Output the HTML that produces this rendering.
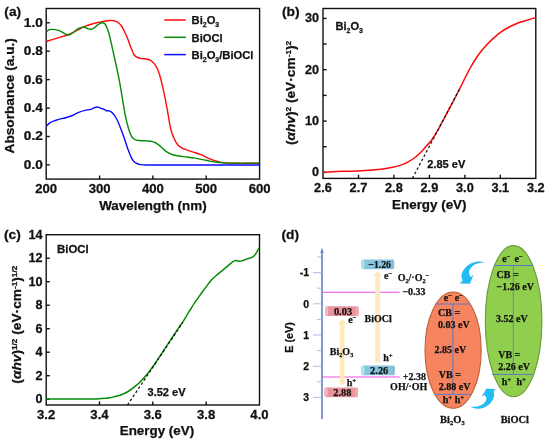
<!DOCTYPE html>
<html><head><meta charset="utf-8"><title>Figure</title>
<style>html,body{margin:0;padding:0;background:#fff}svg{display:block}
text{fill:#111;stroke:#111;stroke-width:0.25px;font-weight:bold}
.s{font-family:"Liberation Sans",Arial,sans-serif}
.t{font-family:"Liberation Serif","Times New Roman",serif}</style>
</head><body>
<svg width="550" height="442" viewBox="0 0 550 442">
<rect width="550" height="442" fill="#fff"/>
<rect x="46.2" y="8.5" width="213.40000000000003" height="170.6" fill="none" stroke="#111" stroke-width="1.4"/>
<line x1="99.6" y1="179.1" x2="99.6" y2="175.5" stroke="#111" stroke-width="1.4"/>
<line x1="152.9" y1="179.1" x2="152.9" y2="175.5" stroke="#111" stroke-width="1.4"/>
<line x1="206.2" y1="179.1" x2="206.2" y2="175.5" stroke="#111" stroke-width="1.4"/>
<line x1="46.2" y1="164.9" x2="49.8" y2="164.9" stroke="#111" stroke-width="1.4"/>
<line x1="46.2" y1="136.5" x2="49.8" y2="136.5" stroke="#111" stroke-width="1.4"/>
<line x1="46.2" y1="108.1" x2="49.8" y2="108.1" stroke="#111" stroke-width="1.4"/>
<line x1="46.2" y1="79.6" x2="49.8" y2="79.6" stroke="#111" stroke-width="1.4"/>
<line x1="46.2" y1="51.2" x2="49.8" y2="51.2" stroke="#111" stroke-width="1.4"/>
<line x1="46.2" y1="22.8" x2="49.8" y2="22.8" stroke="#111" stroke-width="1.4"/>
<text class="s" transform="translate(42.8,168.8) scale(1.1,1)" font-size="12.4" text-anchor="end" >0.0</text>
<text class="s" transform="translate(42.8,140.4) scale(1.1,1)" font-size="12.4" text-anchor="end" >0.2</text>
<text class="s" transform="translate(42.8,112.0) scale(1.1,1)" font-size="12.4" text-anchor="end" >0.4</text>
<text class="s" transform="translate(42.8,83.5) scale(1.1,1)" font-size="12.4" text-anchor="end" >0.6</text>
<text class="s" transform="translate(42.8,55.1) scale(1.1,1)" font-size="12.4" text-anchor="end" >0.8</text>
<text class="s" transform="translate(42.8,26.7) scale(1.1,1)" font-size="12.4" text-anchor="end" >1.0</text>
<text class="s" transform="translate(46.2,193.0) scale(1.06,1)" font-size="12.4" text-anchor="middle" >200</text>
<text class="s" transform="translate(99.6,193.0) scale(1.06,1)" font-size="12.4" text-anchor="middle" >300</text>
<text class="s" transform="translate(152.9,193.0) scale(1.06,1)" font-size="12.4" text-anchor="middle" >400</text>
<text class="s" transform="translate(206.2,193.0) scale(1.06,1)" font-size="12.4" text-anchor="middle" >500</text>
<text class="s" transform="translate(259.6,193.0) scale(1.06,1)" font-size="12.4" text-anchor="middle" >600</text>
<text class="s" transform="translate(152.9,209.5) scale(1,1)" font-size="13.4" text-anchor="middle" >Wavelength (nm)</text>
<text class="s" transform="translate(14.2,95.8) rotate(-90) scale(1.02,1)" font-size="13.4" text-anchor="middle" >Absorbance (a.u.)</text>
<text class="s" transform="translate(4.3,15.6) scale(1.06,1)" font-size="13" text-anchor="start" >(a)</text>
<clipPath id="ca"><rect x="46.2" y="8.5" width="213.40000000000003" height="170.6"/></clipPath>
<g clip-path="url(#ca)" fill="none" stroke-width="1.4" stroke-linejoin="round">
<path d="M46.1,41.6C47.1,41.3 49.8,40.3 52.2,39.6C54.6,38.9 57.7,38.1 60.4,37.2C63.1,36.4 65.8,35.6 68.5,34.5C71.2,33.4 74.0,31.9 76.7,30.5C79.4,29.1 82.1,27.5 84.8,26.4C87.5,25.3 90.3,24.4 93.0,23.7C95.7,22.9 98.7,22.4 101.1,21.9C103.5,21.4 105.5,20.9 107.2,20.7C108.9,20.5 109.9,20.4 111.3,20.5C112.7,20.6 114.2,20.7 115.4,21.1C116.6,21.5 117.4,21.9 118.4,22.7C119.4,23.5 120.5,24.5 121.5,26.0C122.5,27.5 123.5,29.4 124.5,31.5C125.5,33.6 126.6,36.1 127.6,38.6C128.6,41.1 129.8,44.6 130.6,46.8C131.4,49.0 132.0,50.3 132.7,51.8C133.4,53.2 133.8,54.5 134.7,55.5C135.5,56.5 136.6,57.0 137.8,57.5C139.0,58.0 140.5,58.4 141.8,58.6C143.2,58.9 144.5,58.7 145.9,59.0C147.3,59.3 148.9,59.7 150.0,60.2C151.1,60.7 151.5,61.0 152.5,62.0C153.5,63.0 154.9,64.2 156.0,66.1C157.1,68.0 158.1,70.2 159.1,73.2C160.1,76.2 161.1,80.2 162.1,84.4C163.1,88.7 164.2,93.6 165.2,98.7C166.2,103.8 167.3,110.0 168.2,115.0C169.1,120.0 169.7,124.8 170.6,128.5C171.5,132.2 172.2,134.2 173.4,136.9C174.6,139.6 175.9,142.8 177.6,144.8C179.2,146.8 181.0,147.6 183.3,148.7C185.7,149.8 188.9,150.6 191.7,151.6C194.5,152.6 197.4,153.3 200.2,154.4C203.0,155.5 205.8,157.1 208.6,158.3C211.4,159.5 214.3,160.6 217.1,161.4C219.9,162.2 222.3,162.6 225.6,162.9C228.9,163.2 232.6,163.2 236.8,163.3C241.0,163.4 247.1,163.3 250.9,163.3C254.7,163.3 258.0,163.3 259.4,163.3" stroke="#ff0a0a"/>
<path d="M46.1,32.5C46.4,32.1 47.2,30.8 48.1,30.3C49.0,29.8 50.0,29.5 51.2,29.4C52.4,29.3 53.9,29.4 55.3,29.6C56.6,29.8 57.9,30.1 59.3,30.7C60.6,31.2 62.0,32.2 63.4,32.9C64.8,33.6 66.5,34.6 67.5,34.9C68.5,35.2 68.7,35.2 69.5,34.9C70.3,34.6 71.6,33.6 72.6,32.9C73.6,32.2 74.6,31.2 75.6,30.5C76.6,29.8 77.7,28.9 78.7,28.4C79.7,27.9 81.0,27.6 81.8,27.4C82.6,27.2 83.1,26.9 83.8,27.0C84.5,27.1 85.1,27.5 85.8,27.8C86.5,28.1 87.1,28.6 87.9,28.8C88.8,29.0 89.9,29.3 90.9,29.2C91.9,29.1 93.0,28.6 94.0,28.0C95.0,27.4 96.0,26.2 97.0,25.4C98.0,24.6 99.1,23.8 100.1,23.3C101.0,22.9 101.9,22.6 102.7,22.7C103.5,22.8 104.1,22.9 104.8,23.7C105.5,24.5 106.1,25.6 106.8,27.4C107.5,29.2 108.3,31.1 109.2,34.5C110.1,37.9 111.3,43.2 112.3,47.8C113.3,52.4 114.2,56.6 115.4,62.0C116.6,67.4 118.1,74.3 119.3,80.4C120.5,86.5 121.4,92.7 122.4,98.7C123.4,104.7 124.5,111.5 125.5,116.5C126.5,121.5 127.6,125.4 128.6,128.7C129.6,132.0 130.6,134.6 131.6,136.4C132.6,138.2 133.5,138.8 134.7,139.5C135.9,140.2 136.8,140.3 138.8,140.5C140.8,140.7 144.6,140.8 146.6,140.9C148.6,141.0 149.6,141.0 151.0,141.3C152.4,141.6 153.6,141.8 155.0,142.5C156.4,143.2 158.0,144.4 159.3,145.4C160.6,146.4 161.8,147.6 163.0,148.6C164.2,149.6 164.7,150.5 166.4,151.6C168.1,152.7 170.6,154.2 173.4,155.0C176.2,155.8 179.8,156.1 183.3,156.6C186.8,157.1 190.8,157.5 194.6,158.1C198.3,158.7 202.1,159.6 205.8,160.3C209.6,161.0 213.3,161.8 217.1,162.3C220.9,162.8 224.2,163.0 228.4,163.1C232.6,163.2 237.3,163.1 242.5,163.1C247.7,163.1 256.6,163.1 259.4,163.1" stroke="#078a07"/>
<path d="M46.1,126.3C46.8,125.7 48.7,123.6 50.2,122.6C51.7,121.6 53.6,121.1 55.3,120.5C57.0,119.9 58.5,119.4 60.4,118.9C62.3,118.4 64.5,118.1 66.5,117.5C68.5,116.9 70.6,116.3 72.6,115.5C74.6,114.7 76.7,113.2 78.7,112.4C80.7,111.6 82.8,110.9 84.8,110.4C86.8,109.9 89.2,109.8 90.9,109.3C92.6,108.8 93.8,107.9 95.0,107.5C96.2,107.1 97.0,107.0 98.0,107.1C99.0,107.2 100.1,107.9 101.1,108.3C102.1,108.7 103.3,108.9 104.2,109.3C105.1,109.7 105.4,110.5 106.2,110.8C107.0,111.0 108.2,110.5 109.2,110.8C110.2,111.1 111.1,111.5 112.3,112.8C113.5,114.1 115.1,116.0 116.4,118.5C117.8,121.0 119.1,124.3 120.4,127.7C121.8,131.1 123.1,135.0 124.5,138.9C125.9,142.8 127.4,147.9 128.6,151.1C129.8,154.3 130.6,156.3 131.6,158.2C132.6,160.1 133.5,161.3 134.7,162.3C135.9,163.3 137.3,163.9 138.8,164.3C140.3,164.7 140.4,164.8 143.9,164.9C147.4,165.0 140.8,165.0 160.0,165.0C179.2,165.0 242.8,165.0 259.4,165.0" stroke="#0a0aff"/>
</g>
<line x1="164.2" y1="20.0" x2="185.8" y2="20.0" stroke="#ff0a0a" stroke-width="1.5"/>
<text class="s" transform="translate(191.6,24.2) scale(1,1)" font-size="11.2" text-anchor="start" >Bi<tspan font-size="62%" baseline-shift="-2.6">2</tspan>O<tspan font-size="62%" baseline-shift="-2.6">3</tspan></text>
<line x1="164.2" y1="37.3" x2="185.8" y2="37.3" stroke="#078a07" stroke-width="1.5"/>
<text class="s" transform="translate(191.6,41.5) scale(1,1)" font-size="11.2" text-anchor="start" >BiOCl</text>
<line x1="164.2" y1="54.6" x2="185.8" y2="54.6" stroke="#0a0aff" stroke-width="1.5"/>
<text class="s" transform="translate(191.6,58.8) scale(1,1)" font-size="11.2" text-anchor="start" >Bi<tspan font-size="62%" baseline-shift="-2.6">2</tspan>O<tspan font-size="62%" baseline-shift="-2.6">3</tspan>/BiOCl</text>
<rect x="323" y="8.5" width="212.79999999999995" height="169.9" fill="none" stroke="#111" stroke-width="1.4"/>
<line x1="358.5" y1="178.4" x2="358.5" y2="174.8" stroke="#111" stroke-width="1.4"/>
<line x1="393.9" y1="178.4" x2="393.9" y2="174.8" stroke="#111" stroke-width="1.4"/>
<line x1="429.4" y1="178.4" x2="429.4" y2="174.8" stroke="#111" stroke-width="1.4"/>
<line x1="464.9" y1="178.4" x2="464.9" y2="174.8" stroke="#111" stroke-width="1.4"/>
<line x1="500.3" y1="178.4" x2="500.3" y2="174.8" stroke="#111" stroke-width="1.4"/>
<line x1="323" y1="172.4" x2="326.6" y2="172.4" stroke="#111" stroke-width="1.4"/>
<line x1="323" y1="146.7" x2="326.6" y2="146.7" stroke="#111" stroke-width="1.4"/>
<line x1="323" y1="121.1" x2="326.6" y2="121.1" stroke="#111" stroke-width="1.4"/>
<line x1="323" y1="95.4" x2="326.6" y2="95.4" stroke="#111" stroke-width="1.4"/>
<line x1="323" y1="69.7" x2="326.6" y2="69.7" stroke="#111" stroke-width="1.4"/>
<line x1="323" y1="44.0" x2="326.6" y2="44.0" stroke="#111" stroke-width="1.4"/>
<line x1="323" y1="18.4" x2="326.6" y2="18.4" stroke="#111" stroke-width="1.4"/>
<text class="s" transform="translate(319.1,176.3) scale(1.02,1)" font-size="12.4" text-anchor="end" >0</text>
<text class="s" transform="translate(319.1,125.0) scale(1.02,1)" font-size="12.4" text-anchor="end" >10</text>
<text class="s" transform="translate(319.1,73.6) scale(1.02,1)" font-size="12.4" text-anchor="end" >20</text>
<text class="s" transform="translate(319.1,22.3) scale(1.02,1)" font-size="12.4" text-anchor="end" >30</text>
<text class="s" transform="translate(323.0,192.3) scale(1.03,1)" font-size="12.4" text-anchor="middle" >2.6</text>
<text class="s" transform="translate(358.5,192.3) scale(1.03,1)" font-size="12.4" text-anchor="middle" >2.7</text>
<text class="s" transform="translate(393.9,192.3) scale(1.03,1)" font-size="12.4" text-anchor="middle" >2.8</text>
<text class="s" transform="translate(429.4,192.3) scale(1.03,1)" font-size="12.4" text-anchor="middle" >2.9</text>
<text class="s" transform="translate(464.9,192.3) scale(1.03,1)" font-size="12.4" text-anchor="middle" >3.0</text>
<text class="s" transform="translate(500.3,192.3) scale(1.03,1)" font-size="12.4" text-anchor="middle" >3.1</text>
<text class="s" transform="translate(535.8,192.3) scale(1.03,1)" font-size="12.4" text-anchor="middle" >3.2</text>
<text class="s" transform="translate(429.3,209.2) scale(1,1)" font-size="13.4" text-anchor="middle" >Energy (eV)</text>
<text class="s" transform="translate(295.3,93.0) rotate(-90) scale(1.04,1)" font-size="13.2" text-anchor="middle" >(<tspan font-style="italic">αhv</tspan>)<tspan font-size="60%" baseline-shift="4.4">2</tspan> (eV·cm<tspan font-size="60%" baseline-shift="4.4">-1</tspan>)<tspan font-size="60%" baseline-shift="4.4">2</tspan></text>
<text class="s" transform="translate(282.0,15.6) scale(1.06,1)" font-size="13" text-anchor="start" >(b)</text>
<text class="s" transform="translate(335.5,29.8) scale(1.06,1)" font-size="10.5" text-anchor="start" >Bi<tspan font-size="62%" baseline-shift="-2.6">2</tspan>O<tspan font-size="62%" baseline-shift="-2.6">3</tspan></text>
<path d="M322.9,172.3C324.4,172.2 328.6,171.9 332.2,171.7C335.8,171.5 340.3,171.4 344.4,171.3C348.5,171.2 352.6,171.1 356.7,170.9C360.8,170.7 364.8,170.6 368.9,170.3C373.0,170.0 377.4,169.6 381.1,169.2C384.8,168.8 388.2,168.2 391.3,167.6C394.4,167.0 397.2,166.3 400.0,165.4C402.8,164.5 405.2,163.6 407.8,162.2C410.4,160.8 413.3,158.8 415.6,157.0C417.9,155.2 420.0,153.0 421.8,151.2C423.6,149.4 424.5,148.1 426.2,146.2C427.9,144.3 430.0,142.4 431.9,139.8C433.8,137.2 435.8,133.8 437.7,130.4C439.6,127.0 441.6,123.2 443.5,119.6C445.4,116.0 447.6,111.9 449.2,108.9C450.8,105.9 451.2,105.3 453.1,101.7C455.0,98.1 458.3,91.5 460.4,87.4C462.5,83.3 463.8,80.3 465.5,77.0C467.2,73.7 468.8,70.5 470.5,67.5C472.2,64.5 473.9,61.6 475.6,59.0C477.3,56.4 478.8,54.2 480.7,51.8C482.6,49.4 484.8,46.9 486.8,44.7C488.9,42.5 490.6,40.7 493.0,38.6C495.4,36.5 498.4,33.8 501.1,31.9C503.8,30.0 506.5,28.4 509.2,27.0C511.9,25.6 514.7,24.4 517.4,23.3C520.1,22.2 522.5,21.6 525.5,20.7C528.5,19.8 533.8,18.1 535.5,17.6" fill="none" stroke="#ff0a0a" stroke-width="1.5"/>
<line x1="412.4" y1="178.4" x2="459.6" y2="89" stroke="#111" stroke-width="1.25" stroke-dasharray="2.6,2.3"/>
<text class="s" transform="translate(427.3,167.9) scale(1,1)" font-size="10.3" text-anchor="start" textLength="38" lengthAdjust="spacingAndGlyphs">2.85 eV</text>
<rect x="46.2" y="234.7" width="213.3" height="170.3" fill="none" stroke="#111" stroke-width="1.4"/>
<line x1="99.5" y1="405" x2="99.5" y2="401.4" stroke="#111" stroke-width="1.4"/>
<line x1="152.8" y1="405" x2="152.8" y2="401.4" stroke="#111" stroke-width="1.4"/>
<line x1="206.2" y1="405" x2="206.2" y2="401.4" stroke="#111" stroke-width="1.4"/>
<line x1="46.2" y1="399.2" x2="49.8" y2="399.2" stroke="#111" stroke-width="1.4"/>
<line x1="46.2" y1="375.7" x2="49.8" y2="375.7" stroke="#111" stroke-width="1.4"/>
<line x1="46.2" y1="352.2" x2="49.8" y2="352.2" stroke="#111" stroke-width="1.4"/>
<line x1="46.2" y1="328.7" x2="49.8" y2="328.7" stroke="#111" stroke-width="1.4"/>
<line x1="46.2" y1="305.2" x2="49.8" y2="305.2" stroke="#111" stroke-width="1.4"/>
<line x1="46.2" y1="281.7" x2="49.8" y2="281.7" stroke="#111" stroke-width="1.4"/>
<line x1="46.2" y1="258.2" x2="49.8" y2="258.2" stroke="#111" stroke-width="1.4"/>
<text class="s" transform="translate(42.6,403.1) scale(1.02,1)" font-size="12.4" text-anchor="end" >0</text>
<text class="s" transform="translate(42.6,379.6) scale(1.02,1)" font-size="12.4" text-anchor="end" >2</text>
<text class="s" transform="translate(42.6,356.1) scale(1.02,1)" font-size="12.4" text-anchor="end" >4</text>
<text class="s" transform="translate(42.6,332.6) scale(1.02,1)" font-size="12.4" text-anchor="end" >6</text>
<text class="s" transform="translate(42.6,309.1) scale(1.02,1)" font-size="12.4" text-anchor="end" >8</text>
<text class="s" transform="translate(42.6,285.6) scale(1.02,1)" font-size="12.4" text-anchor="end" >10</text>
<text class="s" transform="translate(42.6,262.1) scale(1.02,1)" font-size="12.4" text-anchor="end" >12</text>
<text class="s" transform="translate(42.6,238.6) scale(1.02,1)" font-size="12.4" text-anchor="end" >14</text>
<text class="s" transform="translate(46.2,419.2) scale(1.06,1)" font-size="12.4" text-anchor="middle" >3.2</text>
<text class="s" transform="translate(99.5,419.2) scale(1.06,1)" font-size="12.4" text-anchor="middle" >3.4</text>
<text class="s" transform="translate(152.8,419.2) scale(1.06,1)" font-size="12.4" text-anchor="middle" >3.6</text>
<text class="s" transform="translate(206.2,419.2) scale(1.06,1)" font-size="12.4" text-anchor="middle" >3.8</text>
<text class="s" transform="translate(259.5,419.2) scale(1.06,1)" font-size="12.4" text-anchor="middle" >4.0</text>
<text class="s" transform="translate(156.9,434.8) scale(1,1)" font-size="13.4" text-anchor="middle" >Energy (eV)</text>
<text class="s" transform="translate(20.6,324.7) rotate(-90) scale(1.04,1)" font-size="13.2" text-anchor="middle" >(<tspan font-style="italic">αhv</tspan>)<tspan font-size="60%" baseline-shift="4.4">1/2</tspan> (eV·cm<tspan font-size="60%" baseline-shift="4.4">-1</tspan>)<tspan font-size="60%" baseline-shift="4.4">1/2</tspan></text>
<text class="s" transform="translate(3.9,239.4) scale(1.06,1)" font-size="13" text-anchor="start" >(c)</text>
<text class="s" transform="translate(57.0,252.6) scale(1.09,1)" font-size="10.5" text-anchor="start" >BiOCl</text>
<path d="M46.1,399.0C53.6,399.0 81.7,399.1 90.9,399.0C100.1,398.9 97.7,398.9 101.1,398.6C104.5,398.3 108.1,397.9 111.3,397.4C114.5,396.8 117.2,396.3 120.0,395.3C122.8,394.3 125.4,393.1 128.1,391.5C130.8,389.9 133.9,387.4 136.3,385.4C138.7,383.4 140.4,381.6 142.4,379.5C144.4,377.4 146.5,375.0 148.5,372.5C150.5,370.0 152.6,367.2 154.6,364.3C156.6,361.4 158.7,358.1 160.7,355.0C162.7,351.9 164.8,348.8 166.8,345.7C168.8,342.6 170.9,339.6 172.9,336.5C174.9,333.4 177.1,330.1 179.0,327.3C180.9,324.5 182.5,322.3 184.1,319.8C185.7,317.3 186.7,315.4 188.6,312.4C190.5,309.4 193.2,305.0 195.4,301.7C197.7,298.4 200.2,295.0 202.1,292.3C204.0,289.6 205.5,287.6 207.0,285.6C208.5,283.6 209.7,282.0 211.2,280.3C212.7,278.6 214.1,277.4 216.0,275.7C217.9,274.0 220.3,272.1 222.5,270.3C224.7,268.5 227.6,266.1 229.3,264.7C231.1,263.2 232.0,262.3 233.0,261.6C234.0,260.9 234.6,260.5 235.5,260.4C236.4,260.3 237.4,261.0 238.5,261.1C239.6,261.2 240.5,261.3 242.0,260.9C243.5,260.5 245.7,259.3 247.4,258.7C249.2,258.1 251.2,257.9 252.5,257.1C253.8,256.4 254.4,255.8 255.5,254.2C256.6,252.6 258.6,248.6 259.2,247.5" fill="none" stroke="#078a07" stroke-width="1.5"/>
<line x1="127.5" y1="405" x2="182.8" y2="322.4" stroke="#111" stroke-width="1.25" stroke-dasharray="2.6,2.3"/>
<text class="s" transform="translate(147.5,396.2) scale(1,1)" font-size="10.3" text-anchor="start" textLength="38" lengthAdjust="spacingAndGlyphs">3.52 eV</text>
<text class="s" transform="translate(281.5,239.4) scale(1.06,1)" font-size="13" text-anchor="start" >(d)</text>
<defs>
<linearGradient id="gb" x1="0" x2="1" y1="0" y2="0"><stop offset="0" stop-color="#6fb3d0"/><stop offset="0.12" stop-color="#a9d8ea"/><stop offset="0.5" stop-color="#8ec9df"/><stop offset="0.9" stop-color="#a9d8ea"/><stop offset="1" stop-color="#7fbfd8"/></linearGradient>
<linearGradient id="gr" x1="0" x2="1" y1="0" y2="0"><stop offset="0" stop-color="#d77880"/><stop offset="0.12" stop-color="#efb0b4"/><stop offset="0.5" stop-color="#e2888e"/><stop offset="0.9" stop-color="#efb0b4"/><stop offset="1" stop-color="#dc8088"/></linearGradient>
</defs>
<line x1="322" y1="419" x2="322" y2="251" stroke="#5b82c8" stroke-width="1.6"/>
<path d="M322,247.6 L323.7,253 L320.3,253 Z" fill="#5b82c8"/>
<line x1="313" y1="272.6" x2="321.5" y2="272.6" stroke="#a9c2e8" stroke-width="1"/>
<text class="s" transform="translate(309.0,276.4) scale(1,1)" font-size="10.5" text-anchor="end" >-1</text>
<line x1="313" y1="303.8" x2="321.5" y2="303.8" stroke="#a9c2e8" stroke-width="1"/>
<text class="s" transform="translate(309.0,307.6) scale(1,1)" font-size="10.5" text-anchor="end" >0</text>
<line x1="313" y1="335.0" x2="321.5" y2="335.0" stroke="#a9c2e8" stroke-width="1"/>
<text class="s" transform="translate(309.0,338.8) scale(1,1)" font-size="10.5" text-anchor="end" >1</text>
<line x1="313" y1="366.2" x2="321.5" y2="366.2" stroke="#a9c2e8" stroke-width="1"/>
<text class="s" transform="translate(309.0,370.0) scale(1,1)" font-size="10.5" text-anchor="end" >2</text>
<line x1="313" y1="397.4" x2="321.5" y2="397.4" stroke="#a9c2e8" stroke-width="1"/>
<text class="s" transform="translate(309.0,401.2) scale(1,1)" font-size="10.5" text-anchor="end" >3</text>
<line x1="317" y1="257.0" x2="321.5" y2="257.0" stroke="#a9c2e8" stroke-width="1"/>
<line x1="317" y1="288.2" x2="321.5" y2="288.2" stroke="#a9c2e8" stroke-width="1"/>
<line x1="317" y1="319.4" x2="321.5" y2="319.4" stroke="#a9c2e8" stroke-width="1"/>
<line x1="317" y1="350.6" x2="321.5" y2="350.6" stroke="#a9c2e8" stroke-width="1"/>
<line x1="317" y1="381.8" x2="321.5" y2="381.8" stroke="#a9c2e8" stroke-width="1"/>
<text class="s" transform="translate(293.4,337.5) rotate(-90) scale(1.03,1)" font-size="10.5" text-anchor="middle" >E (eV)</text>
<line x1="322.5" y1="292.2" x2="399.7" y2="292.2" stroke="#f04fe6" stroke-width="1.1"/>
<line x1="322.5" y1="377" x2="399.7" y2="377" stroke="#f04fe6" stroke-width="1.1"/>
<path d="M339.9,384.8 L339.9,324.1 L337.5,324.1 L342.2,319.3 L346.9,324.1 L344.5,324.1 L344.5,384.8 Z" fill="#fde9bc"/>
<path d="M375.3,362.6 L375.3,275.8 L372.90000000000003,275.8 L377.6,271 L382.3,275.8 L379.90000000000003,275.8 L379.90000000000003,362.6 Z" fill="#fde9bc"/>
<rect x="361.2" y="259.4" width="33.0" height="9.800000000000011" rx="2.6" fill="#86c5dd"/>
<rect x="391.0" y="259.4" width="3.2" height="9.800000000000011" rx="1.6" fill="#93bdd0"/>
<ellipse cx="362.9" cy="264.29999999999995" rx="1.7" ry="4.900000000000006" fill="#aee1f1"/>
<text class="t" transform="translate(379.7,267.7) scale(0.93,1)" font-size="10.4" text-anchor="middle" >−1.26</text>
<rect x="325" y="306.2" width="33.60000000000002" height="9.800000000000011" rx="2.6" fill="#e9939b"/>
<rect x="355.40000000000003" y="306.2" width="3.2" height="9.800000000000011" rx="1.6" fill="#f0a6ae"/>
<ellipse cx="326.7" cy="311.1" rx="1.7" ry="4.900000000000006" fill="#f6b8bc"/>
<text class="t" transform="translate(343.0,314.5) scale(1,1)" font-size="10.4" text-anchor="middle" >0.03</text>
<rect x="361.3" y="365.5" width="33.39999999999998" height="9.800000000000011" rx="2.6" fill="#86c5dd"/>
<rect x="391.5" y="365.5" width="3.2" height="9.800000000000011" rx="1.6" fill="#93bdd0"/>
<ellipse cx="363.0" cy="370.4" rx="1.7" ry="4.900000000000006" fill="#aee1f1"/>
<text class="t" transform="translate(379.2,373.8) scale(1,1)" font-size="10.4" text-anchor="middle" >2.26</text>
<rect x="324.3" y="387.4" width="33.69999999999999" height="9.800000000000011" rx="2.6" fill="#e9939b"/>
<rect x="354.8" y="387.4" width="3.2" height="9.800000000000011" rx="1.6" fill="#f0a6ae"/>
<ellipse cx="326.0" cy="392.29999999999995" rx="1.7" ry="4.900000000000006" fill="#f6b8bc"/>
<text class="t" transform="translate(342.3,395.7) scale(1,1)" font-size="10.4" text-anchor="middle" >2.88</text>
<text class="t" transform="translate(384.0,279.3) scale(1,1)" font-size="10" text-anchor="start" >e<tspan font-size="68%" baseline-shift="3.1">−</tspan></text>
<text class="t" transform="translate(348.3,322.8) scale(1,1)" font-size="10" text-anchor="start" >e<tspan font-size="68%" baseline-shift="3.1">−</tspan></text>
<text class="t" transform="translate(364.5,321.5) scale(1,1)" font-size="10" text-anchor="start" >BiOCl</text>
<text class="t" transform="translate(329.8,354.6) scale(1,1)" font-size="10" text-anchor="start" >Bi<tspan font-size="62%" baseline-shift="-2">2</tspan>O<tspan font-size="62%" baseline-shift="-2">3</tspan></text>
<text class="t" transform="translate(383.3,360.5) scale(1,1)" font-size="10" text-anchor="start" >h<tspan font-size="68%" baseline-shift="3.1">+</tspan></text>
<text class="t" transform="translate(346.7,385.5) scale(1,1)" font-size="10" text-anchor="start" >h<tspan font-size="68%" baseline-shift="3.1">+</tspan></text>
<text class="t" transform="translate(397.7,280.7) scale(1,1)" font-size="10" text-anchor="start" >O<tspan font-size="62%" baseline-shift="-2">2</tspan>/·O<tspan font-size="62%" baseline-shift="-2">2</tspan><tspan font-size="68%" baseline-shift="3.1">−</tspan></text>
<text class="t" transform="translate(402.4,294.6) scale(1,1)" font-size="10" text-anchor="start" >−0.33</text>
<text class="t" transform="translate(402.8,379.5) scale(1,1)" font-size="10" text-anchor="start" >+2.38</text>
<text class="t" transform="translate(390.1,390.3) scale(1,1)" font-size="10" text-anchor="start" >OH/·OH</text>
<ellipse cx="453.1" cy="350.15" rx="28.1" ry="58.1" fill="#f5845f" stroke="#bd5f3c" stroke-width="1.1"/>
<ellipse cx="513.6" cy="321.2" rx="28.3" ry="75.6" fill="#90ce4e" stroke="#6a9a33" stroke-width="1.1"/>
<g stroke="#5a78c8" stroke-width="1" fill="none">
<line x1="435.4" y1="304" x2="469.8" y2="304"/><line x1="436" y1="394.4" x2="470.8" y2="394.4"/><line x1="452.9" y1="304" x2="452.9" y2="394.4"/>
<line x1="494" y1="265.5" x2="533" y2="265.5"/><line x1="492" y1="374.4" x2="532.5" y2="374.4"/><line x1="513.3" y1="265.5" x2="513.3" y2="374.4" stroke-width="0.8"/>
</g>
<text class="t" transform="translate(453.4,301.4) scale(1,1)" font-size="10" text-anchor="middle" >e<tspan font-size="68%" baseline-shift="3.1">−</tspan> e<tspan font-size="68%" baseline-shift="3.1">−</tspan></text>
<text class="t" transform="translate(438.0,316.1) scale(1,1)" font-size="10" text-anchor="start" >CB =</text>
<text class="t" transform="translate(438.0,328.4) scale(1,1)" font-size="10" text-anchor="start" >0.03 eV</text>
<text class="t" transform="translate(434.6,352.5) scale(1,1)" font-size="10" text-anchor="start" >2.85 eV</text>
<text class="t" transform="translate(438.8,377.7) scale(1,1)" font-size="10" text-anchor="start" >VB =</text>
<text class="t" transform="translate(438.8,390.0) scale(1,1)" font-size="10" text-anchor="start" >2.88 eV</text>
<text class="t" transform="translate(453.4,403.2) scale(1,1)" font-size="10" text-anchor="middle" >h<tspan font-size="68%" baseline-shift="3.1">+</tspan> h<tspan font-size="68%" baseline-shift="3.1">+</tspan></text>
<text class="t" transform="translate(502.2,261.9) scale(1,1)" font-size="10" text-anchor="start" >e<tspan font-size="68%" baseline-shift="3.1">−</tspan></text>
<text class="t" transform="translate(514.6,261.9) scale(1,1)" font-size="10" text-anchor="start" >e<tspan font-size="68%" baseline-shift="3.1">−</tspan></text>
<text class="t" transform="translate(496.5,278.2) scale(1,1)" font-size="10" text-anchor="start" >CB =</text>
<text class="t" transform="translate(496.5,290.2) scale(1,1)" font-size="10" text-anchor="start" >−1.26 eV</text>
<text class="t" transform="translate(496.0,322.0) scale(1,1)" font-size="10" text-anchor="start" >3.52 eV</text>
<text class="t" transform="translate(498.2,358.0) scale(1,1)" font-size="10" text-anchor="start" >VB =</text>
<text class="t" transform="translate(498.2,370.1) scale(1,1)" font-size="10" text-anchor="start" >2.26 eV</text>
<text class="t" transform="translate(501.8,384.6) scale(1,1)" font-size="10" text-anchor="start" >h<tspan font-size="68%" baseline-shift="3.1">+</tspan></text>
<text class="t" transform="translate(516.4,384.6) scale(1,1)" font-size="10" text-anchor="start" >h<tspan font-size="68%" baseline-shift="3.1">+</tspan></text>
<text class="t" transform="translate(452.4,423.0) scale(1.05,1)" font-size="10" text-anchor="middle" >Bi<tspan font-size="62%" baseline-shift="-2">2</tspan>O<tspan font-size="62%" baseline-shift="-2">3</tspan></text>
<text class="t" transform="translate(514.8,423.0) scale(1.04,1)" font-size="10" text-anchor="middle" >BiOCl</text>
<path d="M 484.6 262.4 C 478.5 260.2 470.4 262.2 465.3 267.8 C 461.7 271.9 460.2 276.5 462.7 280.5 L 459.7 283.6 L 469.9 283.8 L 473.6 274.4 L 470.9 277.0 C 467.8 273.4 468.8 270.4 471.9 266.8 C 475.5 263.2 479.5 262.2 484.6 262.4 Z" fill="#22bbf4"/>
<path d="M 470.3 406.8 C 476.4 409.8 484.0 409.4 489.6 404.0 C 493.5 399.9 495.2 395.4 493.5 391.8 L 495.7 389.3 L 486.6 388.4 L 481.7 396.6 L 484.7 394.9 C 487.4 397.9 486.6 401.0 483.5 403.7 C 479.9 406.4 475.4 407.1 470.3 406.8 Z" fill="#22bbf4"/>
</svg>
</body></html>
